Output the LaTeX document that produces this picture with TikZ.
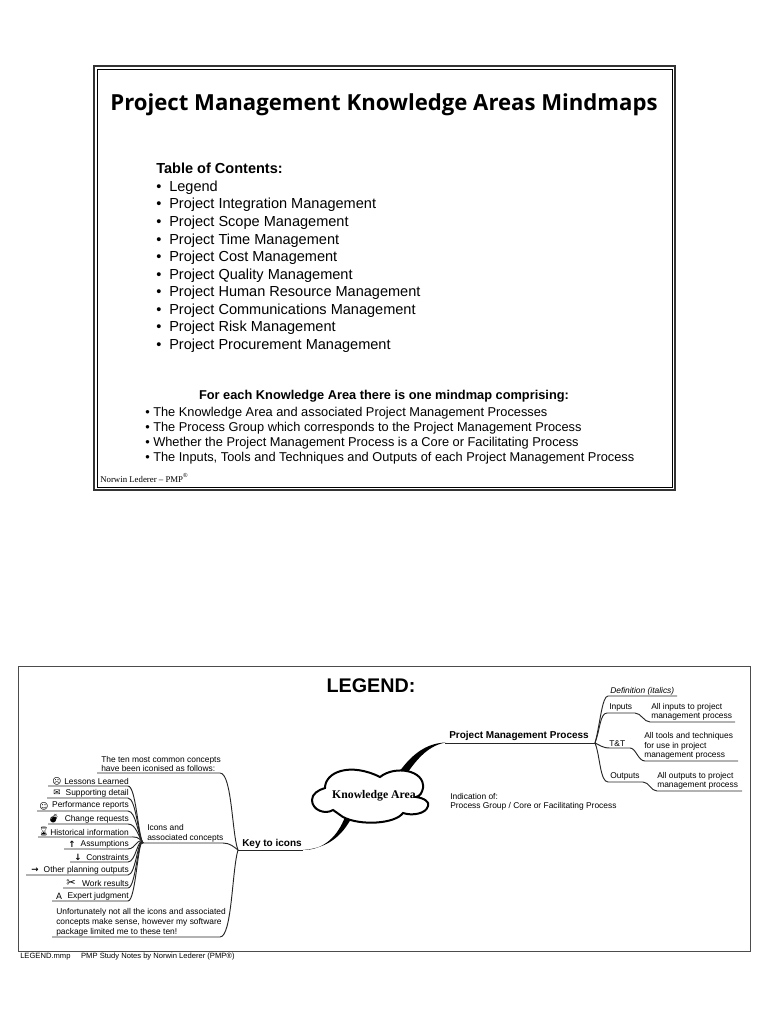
\documentclass[tikz,border=0pt]{standalone}
\usepackage{fontspec}
\setmainfont{Liberation Sans}
\newfontfamily\titlefont{Open Sans}
\newfontfamily\iconfont{DejaVu Sans}
\newfontfamily\emojifont{Noto Emoji}
\newfontfamily\seriffont{Liberation Serif}
\usetikzlibrary{arrows.meta,positioning}
\begin{document}
\begin{tikzpicture}[
      x=0.75pt,y=-0.75pt,
      toc/.style={anchor=base west,inner sep=0pt,font=\fontsize{10.9}{12}\selectfont},
      pts/.style={anchor=base west,inner sep=0pt,font=\fontsize{9.6}{11}\selectfont},
      lab/.style={anchor=south west,inner sep=0pt,font=\fontsize{6.3}{7.2}\selectfont,align=left},
      main/.style={anchor=south west,inner sep=0pt,font=\fontsize{7.5}{8}\selectfont\bfseries},
      icon/.style={anchor=center,inner sep=0pt,font=\iconfont\fontsize{6.5}{7}\selectfont},
      branch/.style={line width=0.7pt,black!85}
    ]
      \useasboundingbox (0,0) rectangle (768,1024);
      % page one
      \draw[line width=2pt,black!80,fill=white] (94,66) rectangle (675,490);
      \draw[line width=0.6pt] (97,69) rectangle (672,487);
      \node[anchor=center,inner sep=0pt,font=\titlefont\fontsize{16.6}{20}\selectfont\bfseries] (title) at (384,104.5) {Project Management Knowledge Areas Mindmaps};
      \node[toc,font=\fontsize{10.9}{12}\selectfont\bfseries] (toc) at (156,173) {Table of Contents:};
      \foreach \ypos/\txt in {191/Legend,208/Project Integration Management,226/Project Scope Management,
        244/Project Time Management,261/Project Cost Management,279/Project Quality Management,
        296/Project Human Resource Management,314/Project Communications Management,
        331/Project Risk Management,349/Project Procurement Management}{
        \node[toc] at (156,\ypos) {\textbullet};
        \node[toc] at (169,\ypos) {\txt};
      }
      \node[anchor=center,inner sep=0pt,font=\fontsize{9.6}{11}\selectfont\bfseries] (each) at (384,396) {For each Knowledge Area there is one mindmap comprising:};
      \foreach \ypos/\txt in {416/The Knowledge Area and associated Project Management Processes,
        431/The Process Group which corresponds to the Project Management Process,
        446/Whether the Project Management Process is a Core or Facilitating Process,
        461/The Inputs{,} Tools and Techniques and Outputs of each Project Management Process}{
        \node[pts] at (145,\ypos) {\textbullet};
        \node[pts] at (153,\ypos) {\txt};
      }
      \node[anchor=west,inner sep=0pt,font=\seriffont\fontsize{6.6}{7}\selectfont] (author) at (100,478) {Norwin Lederer – PMP\textsuperscript{\textregistered}};

      % legend frame
      \draw[line width=0.7pt,black!70] (18,666) rectangle (750,951);
      \node[anchor=center,inner sep=0pt,font=\fontsize{14.8}{18}\selectfont\bfseries] (legend) at (371,686) {LEGEND:};
      \node[anchor=west,inner sep=0pt,font=\fontsize{5.7}{7}\selectfont] (file) at (20,957) {LEGEND.mmp\hspace{8pt}PMP Study Notes by Norwin Lederer (PMP\textregistered)};

      % main branches
      \fill (397,775) .. controls (410,756) and (425,743) .. (446,742.5) .. controls (430,745) and (418,757) .. (406,775) -- cycle;
      \draw[branch] (445,743) -- (595,743);
      \fill (345,817) .. controls (338,835) and (325,850) .. (303,850) .. controls (328,848) and (342,836) .. (352,817) -- cycle;
      \draw[branch] (303,850) -- (238,850);

      % cloud
      \draw[line width=1.5pt,fill=white] (325,788) .. controls (325,772) and (350,762) .. (380,777)
        .. controls (395,765) and (425,770) .. (423,788) .. controls (422,793) and (420,796) .. (416,797)
        .. controls (424,798) and (430,802) .. (428,806) .. controls (426,814) and (412,816) .. (403,813)
        .. controls (395,824) and (360,826) .. (343,817) .. controls (340,815) and (336,812) .. (333,810)
        .. controls (325,815) and (312,810) .. (312,800) .. controls (312,794) and (318,790) .. (325,788) -- cycle;
      \node[anchor=center,inner sep=0pt,font=\seriffont\fontsize{8.8}{10}\selectfont\bfseries] (ka) at (374,795.5) {Knowledge Area};
      \node[main] (pmp) at (449,741) {Project Management Process};
      \node[main] (key) at (242,849) {Key to icons};

      % right side
      \coordinate (r) at (595,743);
      \draw[branch] (r) .. controls (600,725) and (602,696) .. (608,696) -- (677,696);
      \draw[branch] (r) .. controls (600,730) and (600,713) .. (607,713) -- (635,713) .. controls (641,713) and (644,722) .. (650,722) -- (735,722);
      \draw[branch] (r) .. controls (600,745) and (602,748) .. (610,748) -- (630,748) .. controls (636,748) and (638,761) .. (645,761) -- (738,761);
      \draw[branch] (r) .. controls (600,755) and (600,782) .. (608,782) -- (643,782) .. controls (649,782) and (651,791) .. (657,791) -- (742,791);
      \node[lab,font=\fontsize{6.3}{7.2}\selectfont\itshape] (def) at (610,695) {Definition (italics)};
      \node[lab] (in) at (609,712) {Inputs};
      \node[lab] (tt) at (609,747) {T\&T};
      \node[lab] (out) at (610,781) {Outputs};
      \node[lab] (intx) at (651,721) {All inputs to project\\management process};
      \node[lab] (tttx) at (644,760) {All tools and techniques\\for use in project\\management process};
      \node[lab] (outtx) at (657,790) {All outputs to project\\management process};
      \node[lab,anchor=north west] (ind) at (450,793) {Indication of:\\Process Group / Core or Facilitating Process};

      % left side
      \coordinate (k) at (238,850);
      \draw[branch] (k) .. controls (232,835) and (232,773) .. (220,773) -- (97,773);
      \draw[branch] (k) .. controls (232,870) and (232,937) .. (220,937) -- (52,937);
      \draw[branch] (k) .. controls (234,847) and (230,843) .. (223,843) -- (143,843);
      \node[lab] (top) at (101,772) {The ten most common concepts\\have been iconised as follows:};
      \node[lab] (mid) at (147,842) {Icons and\\associated concepts};
      \node[lab] (bot) at (56,936) {Unfortunately not all the icons and associated\\concepts make sense, however my software\\package limited me to these ten!};
      \coordinate (c) at (143,843);
      \foreach \ypos/\xend/\txt/\xic/\ic/\nm in {
        786/48/Lessons Learned/57/☹/a,
        798/47/Supporting detail/57/✉/b,
        811/37/Performance reports/44/☺/d,
        824/48/Change requests/54/{\emojifont 💣}/e,
        837/38/Historical information/44/{\emojifont ⌛}/f,
        849/64/Assumptions/72/{\bfseries ↑}/g,
        862/70/Constraints/78/{\bfseries ↓}/h,
        875/26/Other planning outputs/35/{\bfseries →}/i,
        888/63/Work results/71/{\fontsize{8.5}{9}\selectfont ✂}/j,
        901/52/Expert judgment/59/A/l}{
        \draw[branch] (c) .. controls (138,836) and (136,\ypos) .. (128,\ypos) -- (\xend,\ypos);
        \node[icon] (ic\nm) at (\xic,\ypos-5) {\ic};
        \node[lab,anchor=south east] (t\nm) at (129,\ypos-1) {\txt};
      }
    \end{tikzpicture}
\end{document}
